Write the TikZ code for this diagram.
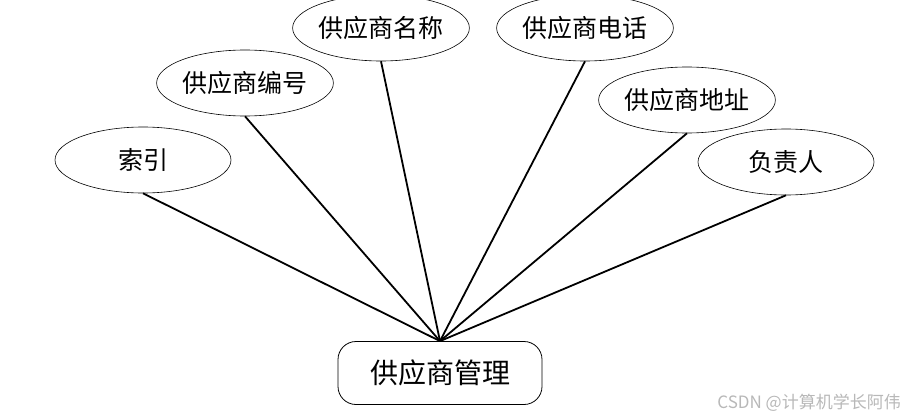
\documentclass[tikz,border=0pt]{standalone}
\usepackage{fontspec}
\usetikzlibrary{shapes.geometric}
\newfontfamily\cjk{Noto Sans CJK SC}
\begin{document}
\begin{tikzpicture}[x=1pt,y=-1pt,
  attr/.style={ellipse,draw,line width=0.6pt,minimum width=176pt,minimum height=66pt,inner sep=0pt,font=\cjk\fontsize{25}{28}\selectfont},
  ent/.style={draw,line width=0.8pt,rounded corners=18pt,minimum width=204pt,minimum height=63pt,inner sep=0pt,font=\cjk\fontsize{28}{32}\selectfont},
  link/.style={line width=1.8pt}]
\useasboundingbox (0,0) rectangle (907,420);
\clip (0,0) rectangle (907,420);
\node[ent] (m) at (440,373) {供应商管理};
\node[attr] (a1) at (143,160) {索引};
\node[attr] (a2) at (245,83) {供应商编号};
\node[attr] (a3) at (381,28) {供应商名称};
\node[attr] (a4) at (585,28) {供应商电话};
\node[attr] (a5) at (687,100) {供应商地址};
\node[attr] (a6) at (786,162) {负责人};
\foreach \n in {a1,a2,a3,a4,a5,a6} \draw[link] (\n.south) -- (m.north);
\node[anchor=east,text=black!28,font=\cjk\fontsize{17}{19}\selectfont,inner sep=0pt] (wm) at (901,403) {CSDN @计算机学长阿伟};
\end{tikzpicture}
\end{document}
